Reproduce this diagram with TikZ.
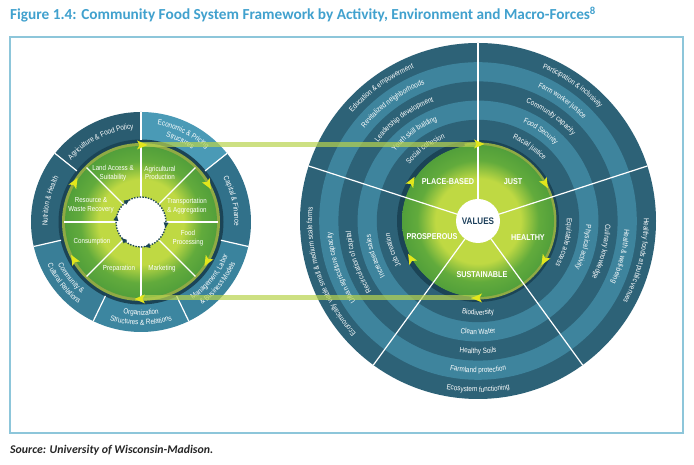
\documentclass[tikz,border=0pt]{standalone}
\usepackage{fontspec}
\setmainfont{Carlito}
\newfontfamily\cnd[FakeStretch=0.85]{Liberation Sans}
\usetikzlibrary{decorations.text}

\definecolor{ttl}{HTML}{41A1CE}
\definecolor{frm}{HTML}{8DC6DA}
\definecolor{bdark}{HTML}{2D6277}
\definecolor{blight}{HTML}{3E849D}
\definecolor{navy}{HTML}{1B4456}
\definecolor{olive}{HTML}{8FAA44}
\definecolor{gg}{HTML}{45963A}
\definecolor{gm}{HTML}{62AB3C}
\definecolor{gy}{HTML}{BFD943}
\definecolor{yarr}{HTML}{E2E61C}
\definecolor{bandc}{HTML}{B8D34E}
\definecolor{valc}{HTML}{1C3F5A}
\definecolor{segA}{HTML}{2A5C70}
\definecolor{segB}{HTML}{4A9AB6}
\definecolor{segC}{HTML}{31718A}
\definecolor{segD}{HTML}{3A839D}
\definecolor{segE}{HTML}{3C86A0}
\definecolor{segF}{HTML}{397E97}
\definecolor{segG}{HTML}{2D6479}

\pgfdeclareradialshading{glow}{\pgfpoint{0bp}{0bp}}{color(0bp)=(gy); color(14bp)=(gy); color(20bp)=(gm); color(29bp)=(gg); color(50bp)=(gg)}

\newcommand\lblfont{\cnd\fontsize{7.5}{9}\selectfont}
\newcommand\cwlabel[5]{%
  \path[shift={(#1)}, decorate, decoration={text along path, text align=center, text color=white, text={|\lblfont|#5}}]
    ({#3+#4}:#2pt) arc[start angle={#3+#4}, end angle={#3-#4}, radius=#2pt];}
\newcommand\ccwlabel[5]{%
  \path[shift={(#1)}, decorate, decoration={text along path, text align=center, text color=white, text={|\lblfont|#5}}]
    ({#3-#4}:#2pt) arc[start angle={#3-#4}, end angle={#3+#4}, radius=#2pt];}
\newcommand\ringsector[6]{%
  \fill[#6, shift={(#1)}] (#2:#5pt) arc[start angle=#2, end angle=#3, radius=#5pt]
    -- (#3:#4pt) arc[start angle=#3, end angle=#2, radius=#4pt] -- cycle;}
\newcommand\yarrow[2]{%
  \fill[yarr, shift={(#1)}, rotate=#2] (72.5,4) -- (77,1.5) -- (81.5,4) -- (77,-6.5) -- cycle;}
\newcommand\narrow[1]{%
  \fill[navy, shift={(141,243)}, rotate=#1] (22.5,2.5) -- (27.5,2.5) -- (25,-2.8) -- cycle;}

\begin{document}
\begin{tikzpicture}[x=1pt, y=1pt,
  sepw/.style={white, line width=1.2pt},
  glabel/.style={text=white, align=center, inner sep=0pt, font=\cnd\fontsize{7.3}{8.5}\selectfont},
  vlabel/.style={text=white, inner sep=0pt, font=\cnd\bfseries\fontsize{8.5}{10}\selectfont},
  bandline/.style={bandc, line width=5pt, opacity=0.7}]
\useasboundingbox (0,0) rectangle (694,465);
\fill[white] (0,0) rectangle (694,465);

% title and source
\node[anchor=base west, inner sep=0pt, text=ttl, font=\bfseries\fontsize{15.3}{17}\selectfont] (title) at (10,445)
  {Figure 1.4: Community Food System Framework by Activity, Environment and Macro-Forces\textsuperscript{8}};
\node[anchor=base west, inner sep=0pt, text=black!85, font=\bfseries\itshape\fontsize{11.8}{13}\selectfont] (source) at (10,11)
  {Source: University of Wisconsin-Madison.};

% frame
\draw[frm, line width=1.8pt] (10,32) rectangle (683,428);

% ===== left wheel =====
\coordinate (L) at (141,243);
\ringsector{141,243}{90}{141.43}{82}{110}{segA}
\ringsector{141,243}{38.57}{90}{82}{110}{segB}
\ringsector{141,243}{-12.86}{38.57}{82}{110}{segC}
\ringsector{141,243}{-64.29}{-12.86}{82}{110}{segD}
\ringsector{141,243}{-115.71}{-64.29}{82}{110}{segE}
\ringsector{141,243}{-167.14}{-115.71}{82}{110}{segF}
\ringsector{141,243}{141.43}{192.86}{82}{110}{segG}
\fill[navy] (L) circle (82.5pt);
\fill[olive] (L) circle (79pt);
\shade[shading=glow] (L) circle (76pt);
\foreach \a in {0,45,...,315} {\draw[sepw, shift={(L)}] (\a:25pt) -- (\a:77pt);}
\foreach \a in {90,38.57,-12.86,-64.29,-115.71,-167.14,141.43} {\draw[sepw, shift={(L)}] (\a:82pt) -- (\a:110pt);}
\fill[white] (L) circle (25pt);
\draw[navy, line width=1.4pt, dash pattern=on 1.4pt off 1.4pt] (L) circle (25pt);
\foreach \a in {171,124,-7,-75,-134} {\narrow{\a}}

\node[glabel] (land) at (113,292) {Land Access \&\\Suitability};
\node[glabel] (agri) at (160,292) {Agricultural\\Production};
\node[glabel] (trans) at (187,259) {Transportation\\\& Aggregation};
\node[glabel] (proc) at (188,227) {Food\\Processing};
\node[glabel] (mark) at (162,196) {Marketing};
\node[glabel] (prep) at (119,196) {Preparation};
\node[glabel] (cons) at (92,223) {Consumption};
\node[glabel] (res) at (91,260) {Resource \&\\Waste Recovery};

\cwlabel{141,243}{93.4}{116.5}{50}{Agriculture {\&} Food Policy}
\cwlabel{141,243}{98.5}{64.3}{50}{Economic {\&} Pricing}
\cwlabel{141,243}{88.8}{64.3}{50}{Structures}
\cwlabel{141,243}{93.4}{12.9}{50}{Capital {\&} Finance}
\cwlabel{141,243}{93.4}{167.1}{50}{Nutrition {\&} Health}
\ccwlabel{141,243}{93.2}{-38.6}{50}{Management, Labor}
\ccwlabel{141,243}{103}{-38.6}{50}{{\&} Business Models}
\ccwlabel{141,243}{93.2}{-90}{50}{Organization}
\ccwlabel{141,243}{103}{-90}{50}{Structures {\&} Relations}
\ccwlabel{141,243}{93.2}{-141.4}{50}{Community {\&}}
\ccwlabel{141,243}{103}{-141.4}{50}{Cultural Relations}

% ===== right wheel =====
\coordinate (R) at (478,244);
\fill[bdark] (R) circle (178pt);
\fill[blight] (R) circle (158.8pt);
\fill[bdark] (R) circle (139.6pt);
\fill[blight] (R) circle (120.4pt);
\fill[bdark] (R) circle (101.2pt);
\fill[navy] (R) circle (81pt);
\fill[olive] (R) circle (78.5pt);
\draw[navy, line width=3.5pt, shift={(R)}] (100:77.5pt) arc[start angle=100, end angle=265, radius=77.5pt];
\shade[shading=glow] (R) circle (76pt);
\foreach \a in {90,18,-54,-126,162} {\draw[sepw, shift={(R)}] (\a:22pt) -- (\a:178pt);}
\fill[white] (R) circle (22pt);

\node[inner sep=0pt, text=valc, font=\cnd\bfseries\fontsize{9.5}{11}\selectfont] (values) at (478,244) {VALUES};
\node[vlabel] (place) at (448,283) {PLACE-BASED};
\node[vlabel] (just) at (513,283) {JUST};
\node[vlabel] (healthy) at (528,227) {HEALTHY};
\node[vlabel] (sust) at (482,190.5) {SUSTAINABLE};
\node[vlabel] (prosp) at (432,228) {PROSPEROUS};

% place-based
\cwlabel{478,244}{165.8}{126}{60}{Education {\&} empowerment}
\cwlabel{478,244}{146.6}{126}{60}{Revitalized neighborhoods}
\cwlabel{478,244}{127.4}{126}{60}{Leadership development}
\cwlabel{478,244}{108.2}{126}{60}{Youth skill building}
\cwlabel{478,244}{89}{126}{60}{Social cohesion}
% just
\cwlabel{478,244}{165.8}{55}{60}{Participation {\&} inclusivity}
\cwlabel{478,244}{146.6}{55}{60}{Farm worker justice}
\cwlabel{478,244}{127.4}{55}{60}{Community capacity}
\cwlabel{478,244}{108.2}{55}{60}{Food Security}
\cwlabel{478,244}{89}{55}{60}{Racial justice}
% healthy
\cwlabel{478,244}{165.8}{-14}{60}{Healthy foods at public venues}
\cwlabel{478,244}{146.6}{-14}{60}{Health {\&} well-being}
\cwlabel{478,244}{127.4}{-14}{60}{Culinary knowledge}
\cwlabel{478,244}{108.2}{-14}{60}{Physical activity}
\cwlabel{478,244}{89}{-14}{60}{Equitable access}
% sustainable
\ccwlabel{478,244}{94.2}{-90}{60}{Biodiversity}
\ccwlabel{478,244}{113.4}{-90}{60}{Clean Water}
\ccwlabel{478,244}{132.6}{-90}{60}{Healthy Soils}
\ccwlabel{478,244}{151.8}{-90}{60}{Farmland protection}
\ccwlabel{478,244}{171}{-90}{60}{Ecosystem functioning}
% prosperous
\cwlabel{478,244}{165.8}{199}{60}{Economically viable small {\&} medium scale farms}
\cwlabel{478,244}{146.6}{199}{60}{Urban agriculture capacity}
\cwlabel{478,244}{127.4}{199}{60}{Recirculation of capital}
\cwlabel{478,244}{108.2}{199}{60}{Increased sales}
\cwlabel{478,244}{89}{199}{60}{Job creation}

% ===== connectors =====
\coordinate (Ltop) at (141,320.5);
\coordinate (Rtop) at (478,320.5);
\coordinate (Lbot) at (141,167);
\coordinate (Rbot) at (478,167);
\draw[bandline] (Ltop) -- (Rtop);
\draw[bandline] (Lbot) -- (Rbot);

% ===== arrows =====
\foreach \a in {90,30,-30,-90,-150,150} {\yarrow{141,243}{\a}\yarrow{478,244}{\a}}
\end{tikzpicture}
\end{document}
